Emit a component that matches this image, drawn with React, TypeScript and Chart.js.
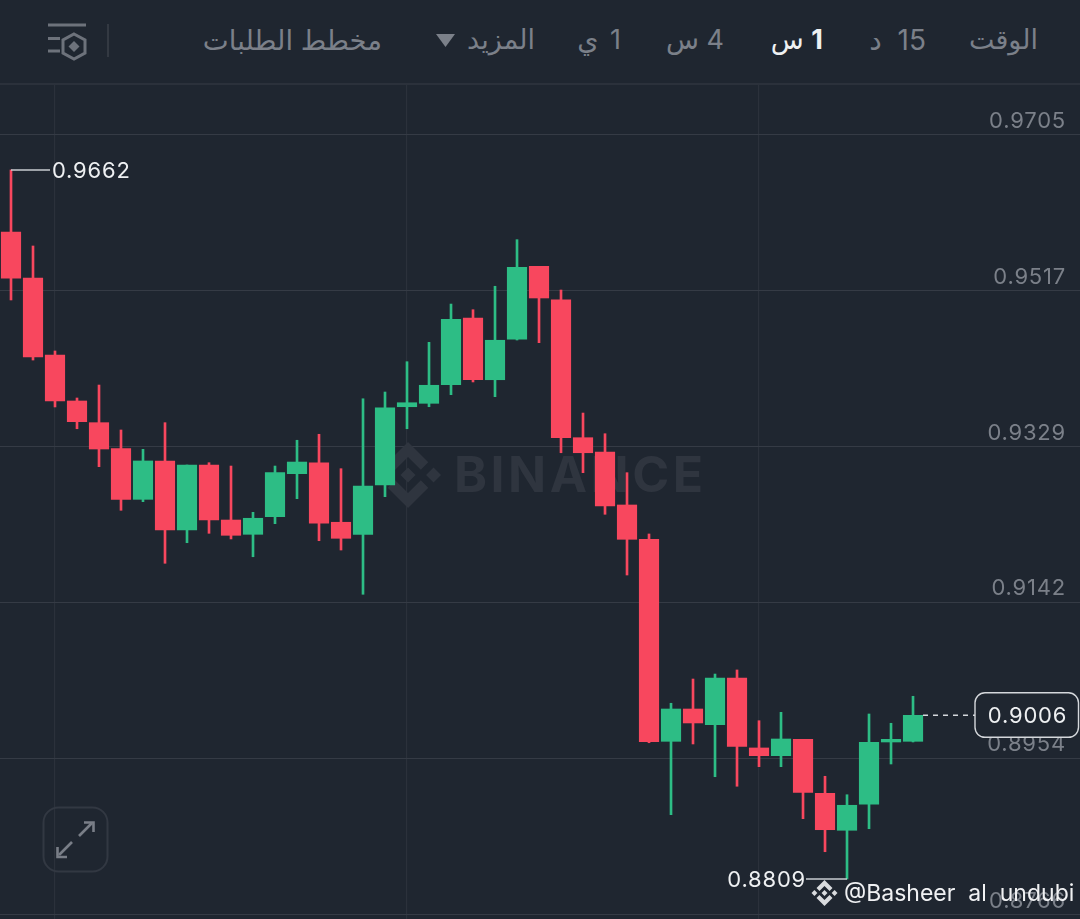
import React, { useEffect, useRef } from "react";
import { Chart, registerables } from "chart.js";

Chart.register(...registerables);

const opens = [0.95876,0.95322,0.94396,0.93842,0.93581,0.93268,0.92658,0.9312,0.92289,0.93071,0.92409,0.92237,0.92449,0.92967,0.93099,0.92382,0.92237,0.92831,0.93773,0.93814,0.94038,0.94841,0.94098,0.94585,0.95463,0.95061,0.934,0.93228,0.9259,0.92177,0.89745,0.90134,0.89945,0.90507,0.89665,0.89572,0.89769,0.89119,0.88674,0.88987,0.89737,0.89745];
const closes = [0.95322,0.94371,0.93842,0.93593,0.93264,0.92658,0.9312,0.92289,0.93071,0.92409,0.92225,0.9243,0.92979,0.93107,0.9237,0.92189,0.92819,0.93761,0.93821,0.94031,0.94825,0.94098,0.94573,0.95451,0.95082,0.934,0.93219,0.92578,0.92177,0.8974,0.90134,0.89966,0.90507,0.89685,0.89572,0.89773,0.89131,0.88681,0.88975,0.89733,0.89769,0.90058];
const highs = [0.96623,0.95708,0.94444,0.93878,0.94034,0.93493,0.9326,0.93581,0.93071,0.93099,0.93059,0.92502,0.93059,0.93369,0.93441,0.93027,0.93869,0.9395,0.94315,0.94548,0.95009,0.94941,0.95223,0.95784,0.95463,0.95178,0.93697,0.93448,0.92979,0.92241,0.90203,0.90495,0.90555,0.90604,0.89993,0.90094,0.89769,0.89324,0.89102,0.90074,0.89962,0.90287];
const lows = [0.95058,0.94335,0.9377,0.93508,0.93051,0.92526,0.9263,0.91888,0.92136,0.92249,0.92181,0.91967,0.92365,0.92666,0.9216,0.92048,0.91515,0.9269,0.93508,0.93773,0.93918,0.94071,0.93894,0.94576,0.94544,0.93219,0.92979,0.92478,0.91747,0.89728,0.88862,0.89713,0.89319,0.89204,0.8944,0.8944,0.88814,0.88416,0.88088,0.88693,0.89472,0.89737];
const priceTicks = [0.9705, 0.9517, 0.9329, 0.9142, 0.8954, 0.8766];
const timeTicks = [2, 18, 34];
const periodTabs = ["الوقت", "15 د", "1 س", "4 س", "1 ي", "المزيد", "مخطط الطلبات"];
const highLabel = "0.9662";
const lowLabel = "0.8809";
const lastLabel = "0.9006";
const brandText = "BINANCE";
const authorText = "@Basheer  al  undubi";

const BG = "#1f2630";
const UP = "#2dbd85";
const DOWN = "#f8475e";
const FONT = "Inter, 'DejaVu Sans', sans-serif";

const LOGO = [
  "M38.73 53.2l24.59-24.58 24.6 24.6 14.3-14.31L63.32 0 24.43 38.9l14.3 14.3z",
  "M0 63.31l14.3-14.31 14.31 14.31-14.31 14.3z",
  "M38.73 73.41l24.59 24.59 24.6-24.6 14.31 14.29-38.9 38.91-38.91-38.88-.02-.02 14.33-14.29z",
  "M98 63.31l14.3-14.31 14.31 14.3-14.31 14.32z",
  "M77.83 63.3L63.32 48.78 52.59 59.51l-1.24 1.23-2.54 2.54 14.51 14.5 14.51-14.47z",
];

function drawLogo(ctx: CanvasRenderingContext2D, cx: number, cy: number, size: number, color: string) {
  ctx.save();
  ctx.translate(cx - size / 2, cy - size / 2);
  ctx.scale(size / 126.61, size / 126.61);
  ctx.fillStyle = color;
  LOGO.forEach((d) => ctx.fill(new Path2D(d)));
  ctx.restore();
}

const watermark = {
  id: "watermark",
  beforeDraw(chart: any) {
    chart.ctx.letterSpacing = "0.8px";
  },
  beforeDatasetsDraw(chart: any) {
    const { ctx } = chart;
    const top = chart.canvas.offsetTop;
    ctx.save();
    drawLogo(ctx, 408, 475 - top, 66, "#2f353f");
    ctx.fillStyle = "#2f353f";
    ctx.font = `700 50px ${FONT}`;
    ctx.letterSpacing = "3.5px";
    ctx.textAlign = "left";
    ctx.textBaseline = "middle";
    ctx.fillText(brandText, 454, 477 - top);
    ctx.restore();
  },
};

const annotations = {
  id: "annotations",
  afterDraw(chart: any) {
    const { ctx, scales } = chart;
    const top = chart.canvas.offsetTop;
    const x = scales.x;
    const y = scales.y;
    ctx.save();
    ctx.font = `400 22px ${FONT}`;
    ctx.letterSpacing = "0.8px";
    ctx.textBaseline = "middle";

    const hx = x.getPixelForValue(0);
    const hy = y.getPixelForValue(highs[0]);
    ctx.strokeStyle = "#c9ccd1";
    ctx.lineWidth = 1.4;
    ctx.beginPath();
    ctx.moveTo(hx, hy);
    ctx.lineTo(50, hy);
    ctx.stroke();
    ctx.fillStyle = "#eef0f2";
    ctx.textAlign = "left";
    ctx.fillText(highLabel, 52, hy + 1);

    const lx = x.getPixelForValue(38);
    const ly = y.getPixelForValue(lows[38]);
    ctx.beginPath();
    ctx.moveTo(lx, ly);
    ctx.lineTo(806, ly);
    ctx.stroke();
    ctx.textAlign = "right";
    ctx.fillText(lowLabel, 806, ly + 1);

    const px = x.getPixelForValue(41);
    const py = y.getPixelForValue(closes[41]);
    ctx.setLineDash([5, 5]);
    ctx.strokeStyle = "#d5d8dc";
    ctx.beginPath();
    ctx.moveTo(px + 10, py);
    ctx.lineTo(975, py);
    ctx.stroke();
    ctx.setLineDash([]);
    ctx.beginPath();
    ctx.roundRect(975, py - 22.5, 103.5, 44.5, 10);
    ctx.fillStyle = BG;
    ctx.fill();
    ctx.stroke();
    ctx.fillStyle = "#eef0f2";
    ctx.textAlign = "center";
    ctx.fillText(lastLabel, 1027.5, py + 1);

    drawLogo(ctx, 824.5, 893 - top, 26, "#d9dbde");
    ctx.fillStyle = "#f0f1f3";
    ctx.textAlign = "left";
    ctx.font = `400 23px ${FONT}`;
    ctx.letterSpacing = "0px";
    ctx.fillText(authorText, 844, 894 - top);
    ctx.restore();
  },
};

function Tab({ text, right, color = "#7b8089", boldDigit = false, spacing = 0, size = 27 }: { text: string; right: number; color?: string; boldDigit?: boolean; spacing?: number; size?: number }) {
  const parts = text.split(" ");
  return (
    <span
      dir="rtl"
      style={{ position: "absolute", right, top: 20, lineHeight: "40px", fontSize: size, color, whiteSpace: "nowrap", fontFamily: FONT, wordSpacing: spacing }}
    >
      {boldDigit ? (
        <>
          <span style={{ fontWeight: 700 }}>{parts[0]}</span> {parts[1]}
        </>
      ) : (
        text
      )}
    </span>
  );
}

export default function App() {
  const ref = useRef<HTMLCanvasElement>(null);

  useEffect(() => {
    document.body.style.margin = "0";
    document.body.style.background = BG;
    const indexed = (a: number[], b: number[]) => a.map((v, i) => ({ x: i, y: [v, b[i]] }));
    const colors = closes.map((c, i) => (c >= opens[i] ? UP : DOWN));
    const chart = new Chart(ref.current as HTMLCanvasElement, {
      type: "bar",
      data: {
        datasets: [
          { data: indexed(lows, highs) as any, backgroundColor: colors, barThickness: 2, grouped: false, order: 2 } as any,
          { data: indexed(opens, closes) as any, backgroundColor: colors, barThickness: 19.5, grouped: false, order: 1 } as any,
        ],
      },
      options: {
        animation: false,
        responsive: false,
        layout: { padding: 0 },
        plugins: { legend: { display: false }, tooltip: { enabled: false } },
        scales: {
          x: {
            type: "linear",
            offset: false,
            min: -0.5,
            max: 48.59,
            afterBuildTicks: (s: any) => {
              s.ticks = timeTicks.map((value) => ({ value }));
            },
            ticks: { display: false },
            grid: { offset: false, color: "#2b313b", lineWidth: 1.2, drawTicks: false },
            border: { display: false },
          },
          y: {
            type: "linear",
            position: "right",
            min: 0.87606,
            max: 0.97658,
            afterBuildTicks: (s: any) => {
              s.ticks = priceTicks.map((value) => ({ value }));
            },
            afterFit: (s: any) => {
              s.width = 0;
              s.paddingTop = 0;
              s.paddingBottom = 0;
            },
            ticks: {
              mirror: true,
              padding: -14,
              labelOffset: -13.5,
              color: "#7b8089",
              font: { family: FONT, size: 22 },
              callback: (v: any) => Number(v).toFixed(4),
            },
            grid: { color: "#353b45", lineWidth: 1, drawTicks: false },
            border: { display: false },
          },
        },
      } as any,
      plugins: [watermark, annotations],
    });
    return () => chart.destroy();
  }, []);

  return (
    <div style={{ position: "absolute", left: 0, top: 0, width: 1080, height: 919, background: BG, overflow: "hidden" }}>
      <canvas ref={ref} width={1080} height={835} style={{ position: "absolute", left: 0, top: 84, width: 1080, height: 835 }} />
      <div style={{ position: "absolute", left: 0, top: 83, width: 1080, height: 1.5, background: "#2b313b" }} />
      <Tab text={periodTabs[0]} right={42} />
      <Tab text={periodTabs[1]} right={154} spacing={8} size={28} />
      <Tab text={periodTabs[2]} right={257} color="#eef0f2" boldDigit />
      <Tab text={periodTabs[3]} right={356} />
      <Tab text={periodTabs[4]} right={459} spacing={4} />
      <Tab text={periodTabs[5]} right={545} />
      <Tab text={periodTabs[6]} right={698} size={27.5} />
      <svg width={1080} height={84} style={{ position: "absolute", left: 0, top: 0 }}>
        <polygon points="436,34 455,34 445.5,47" fill="#7b8089" />
        <rect x={107} y={24} width={2} height={33} fill="#333942" />
        <g stroke="#6d727b" strokeWidth={3} fill="none">
          <line x1={48} y1={25} x2={86} y2={25} />
          <line x1={48} y1={38.5} x2={60} y2={38.5} />
          <line x1={48} y1={51} x2={60} y2={51} />
          <polygon points="74,34 85,40 85,53 74,59 63,53 63,40" />
        </g>
        <polygon points="74,41 79.5,46.5 74,52 68.5,46.5" fill="#6d727b" />
      </svg>
      <svg width={70} height={70} viewBox="40 804 70 70" style={{ position: "absolute", left: 40, top: 804 }}>
        <rect x={43.5} y={807.5} width={64} height={64} rx={15} fill="none" stroke="#323842" strokeWidth={2} />
        <g stroke="#797e87" strokeWidth={2.6} fill="none">
          <line x1={79} y1={836} x2={92} y2={823} />
          <polyline points="84,822.5 93.5,822.5 93.5,832" />
          <line x1={72} y1={842} x2={59} y2={855} />
          <polyline points="57.5,847 57.5,857 67,857" />
        </g>
      </svg>
    </div>
  );
}
